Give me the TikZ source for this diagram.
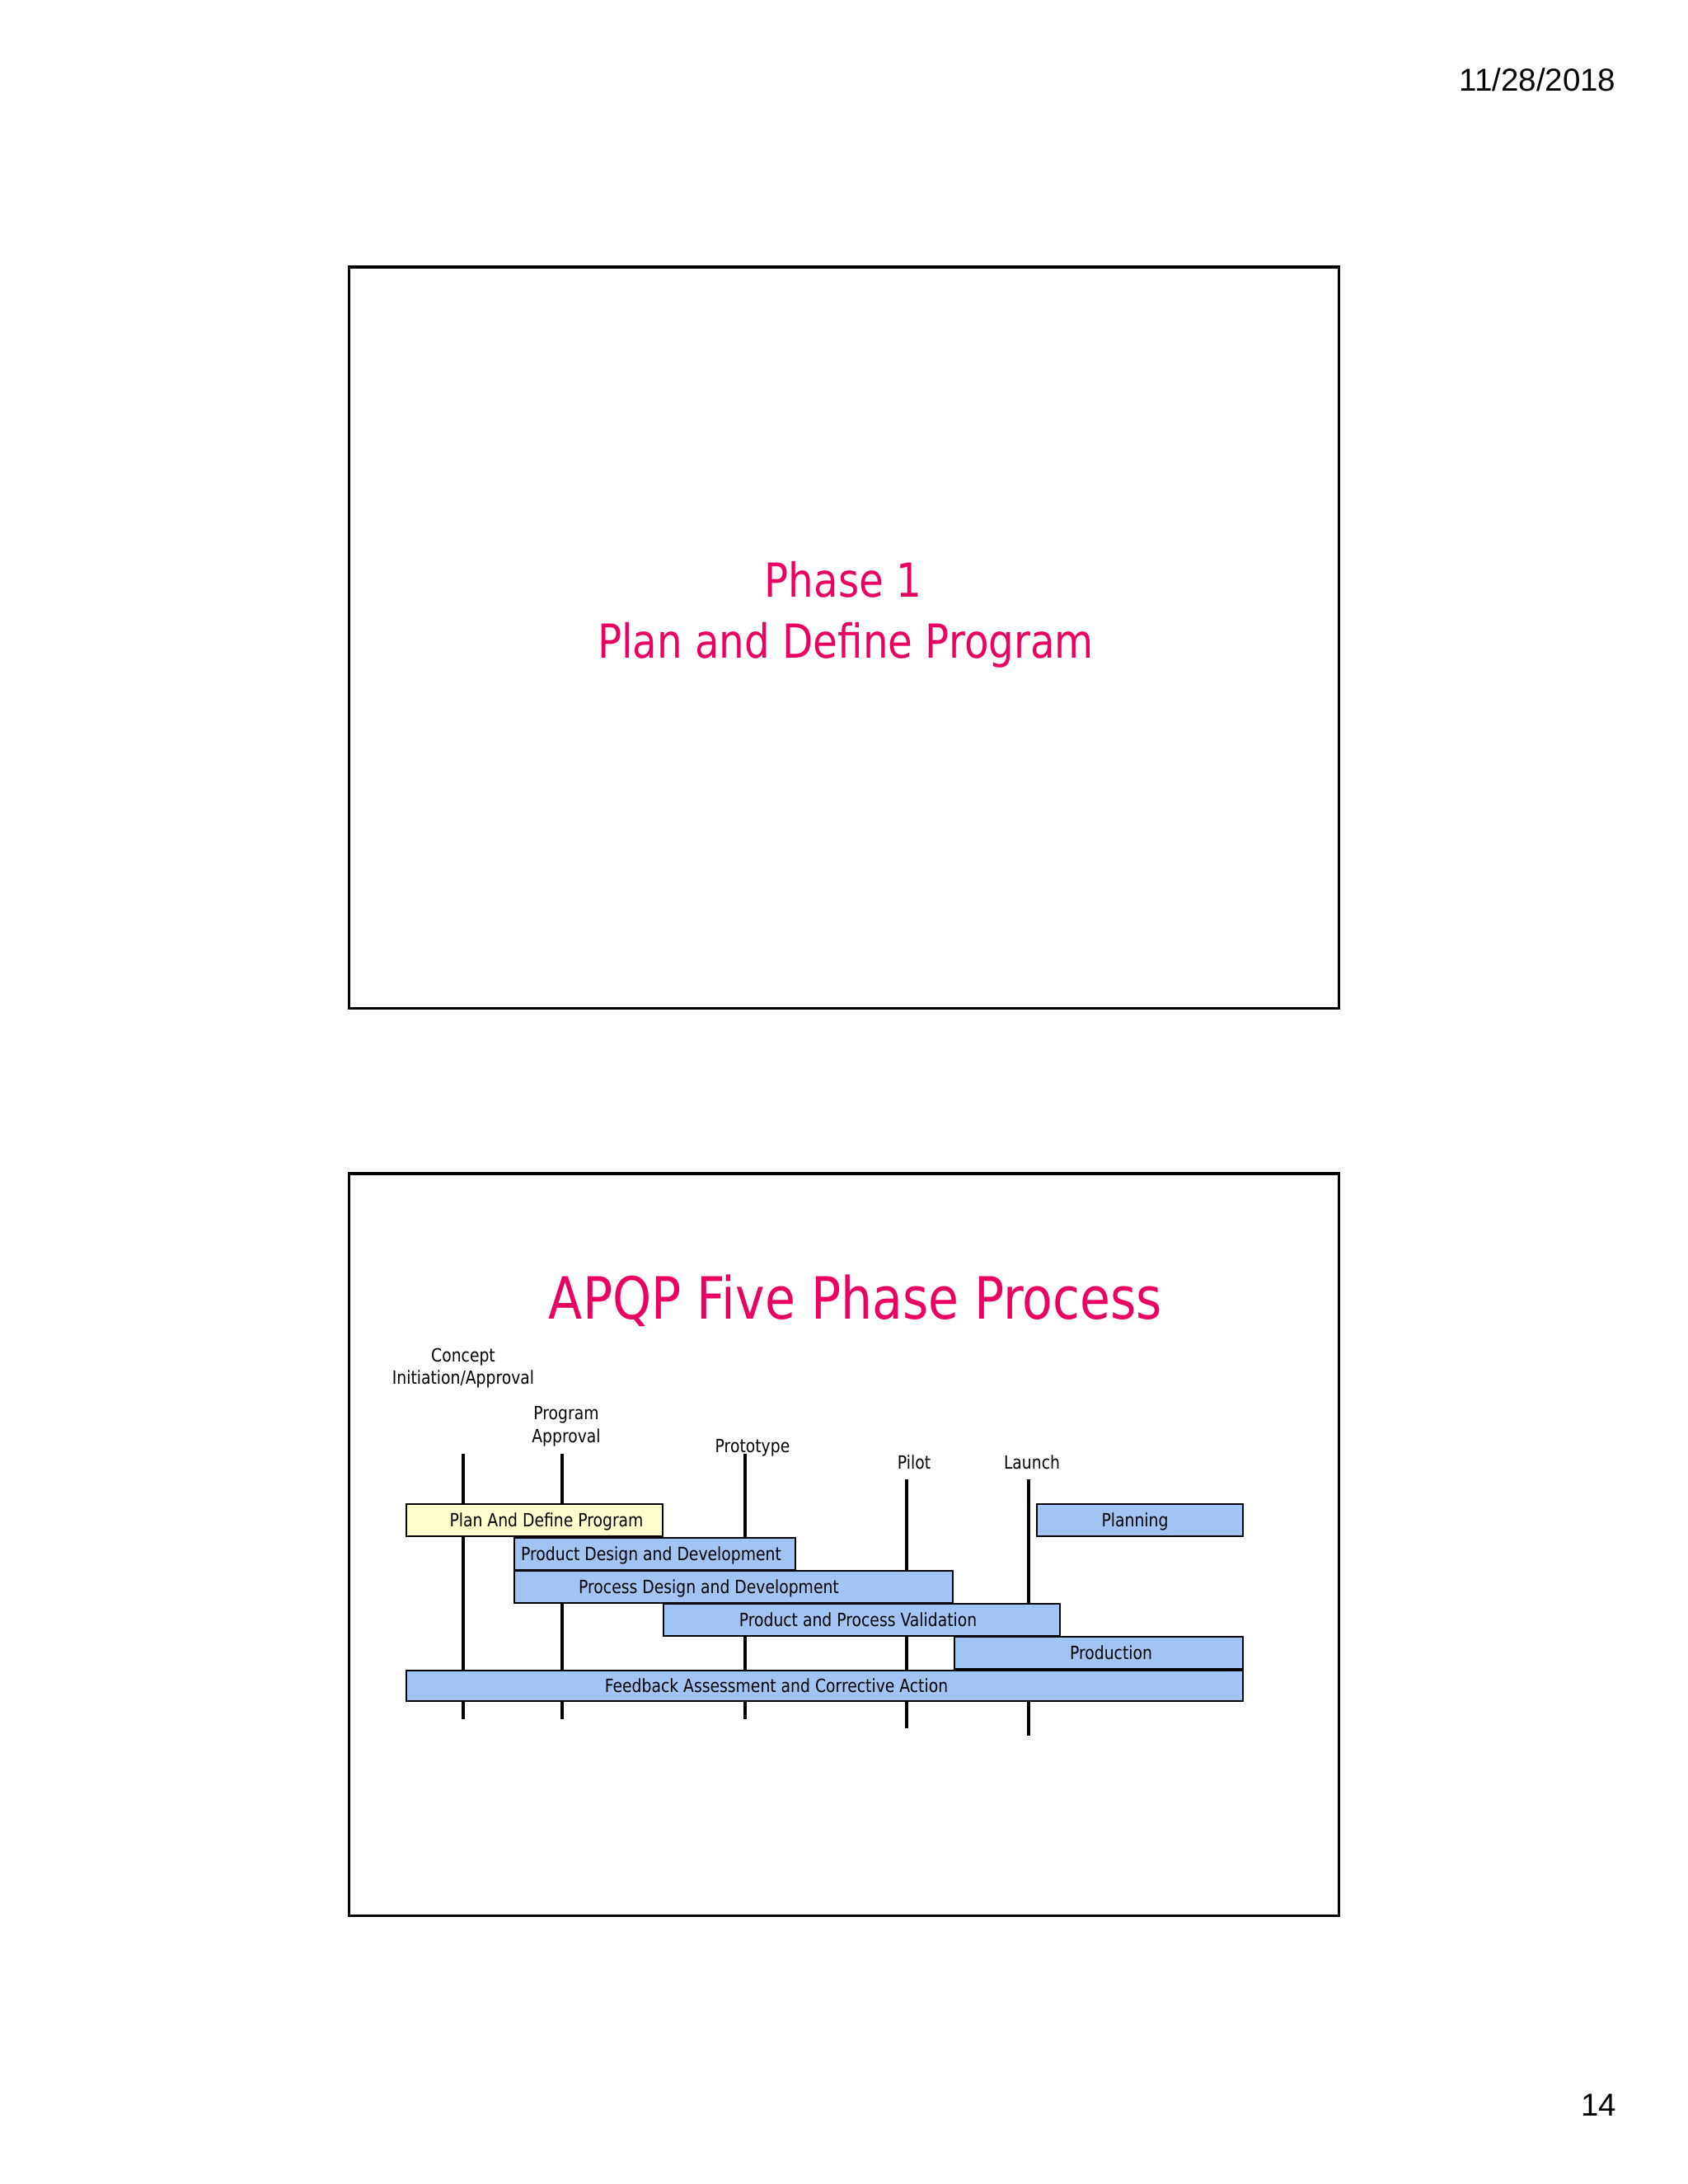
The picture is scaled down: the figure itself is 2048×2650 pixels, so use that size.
\documentclass[tikz,border=0pt]{standalone}
\usepackage{fontspec}
\setmainfont{Liberation Sans}
\newfontfamily\slidefont[FakeStretch=0.85]{DejaVu Sans}
\usetikzlibrary{fit}
\definecolor{slidepink}{RGB}{234,0,96}
\definecolor{barblue}{RGB}{160,196,244}
\definecolor{baryellow}{RGB}{255,255,204}
\begin{document}
\begin{tikzpicture}[x=0.29883pt,y=-0.29883pt,
  frame/.style={draw=black,line width=1pt,inner sep=0pt},
  mile/.style={line width=1.4pt},
  bar/.style={draw=black,line width=0.5pt,inner sep=0pt,fill=barblue},
  bartext/.style={font=\slidefont\fontsize{6.6}{7.9}\selectfont,inner sep=0pt,anchor=base},
  pagetext/.style={font=\fontsize{11.5}{13}\selectfont,inner sep=0pt,anchor=base east},
  pinktext/.style={text=slidepink,inner sep=0pt,anchor=base}
]
\useasboundingbox (0,0) rectangle (2048,2650);
\fill[white] (0,0) rectangle (2048,2650);

% page furniture
\node[pagetext] (date) at (1961,110) {11/28/2018};
\node[pagetext] (pnum) at (1962,2567) {14};

% slide frames
\node[frame,fit={(423.3,324) (1624.3,1223.6)}] (slide1) {};
\node[frame,fit={(423.3,1424) (1624.3,2324.3)}] (slide2) {};

% slide 1 text
\node[pinktext,font=\slidefont\fontsize{17}{20}\selectfont] (ph1) at (1023,724.5) {Phase 1};
\node[pinktext,font=\slidefont\fontsize{17}{20}\selectfont] (ph1b) at (1026,798) {Plan and Define Program};

% slide 2 title
\node[pinktext,font=\slidefont\fontsize{21.1}{25}\selectfont] (title) at (1038,1600) {APQP Five Phase Process};

% milestone labels
\node[bartext] (lc1) at (562,1652) {Concept};
\node[bartext] (lc2) at (562,1679) {Initiation/Approval};
\node[bartext] (lp1) at (687,1722) {Program};
\node[bartext] (lp2) at (687,1750) {Approval};
\node[bartext] (lpt) at (913,1762) {Prototype};
\node[bartext] (lpi) at (1109,1782) {Pilot};
\node[bartext] (lla) at (1252,1782) {Launch};

% milestone lines
\coordinate (m1t) at (562,1764);  \coordinate (m1b) at (562,2086);
\coordinate (m2t) at (682,1764);  \coordinate (m2b) at (682,2086);
\coordinate (m3t) at (904,1764);  \coordinate (m3b) at (904,2086);
\coordinate (m4t) at (1100,1795); \coordinate (m4b) at (1100,2097);
\coordinate (m5t) at (1248,1795); \coordinate (m5b) at (1248,2106);
\draw[mile] (m1t) -- (m1b);
\draw[mile] (m2t) -- (m2b);
\draw[mile] (m3t) -- (m3b);
\draw[mile] (m4t) -- (m4b);
\draw[mile] (m5t) -- (m5b);

% bars
\node[bar,fill=baryellow,fit={(493,1825) (804,1864)}] (plan) {};
\node[bar,fit={(1258,1825) (1508,1864)}] (planning) {};
\node[bar,fit={(624,1866) (965,1905)}] (pdd) {};
\node[bar,fit={(624,1906) (1156,1945)}] (prdd) {};
\node[bar,fit={(805,1946) (1286,1985)}] (ppv) {};
\node[bar,fit={(1158,1986) (1508,2025)}] (prod) {};
\node[bar,fit={(493,2027) (1508,2064)}] (fb) {};

% bar texts
\node[bartext] (tplan) at (663,1852.5) {Plan And Define Program};
\node[bartext] (tplanning) at (1377,1852.5) {Planning};
\node[bartext] (tpdd) at (790,1893.5) {Product Design and Development};
\node[bartext] (tprdd) at (860,1933.5) {Process Design and Development};
\node[bartext] (tppv) at (1041,1973.5) {Product and Process Validation};
\node[bartext] (tprod) at (1348,2013.5) {Production};
\node[bartext] (tfb) at (942,2053.5) {Feedback Assessment and Corrective Action};
\end{tikzpicture}
\end{document}
